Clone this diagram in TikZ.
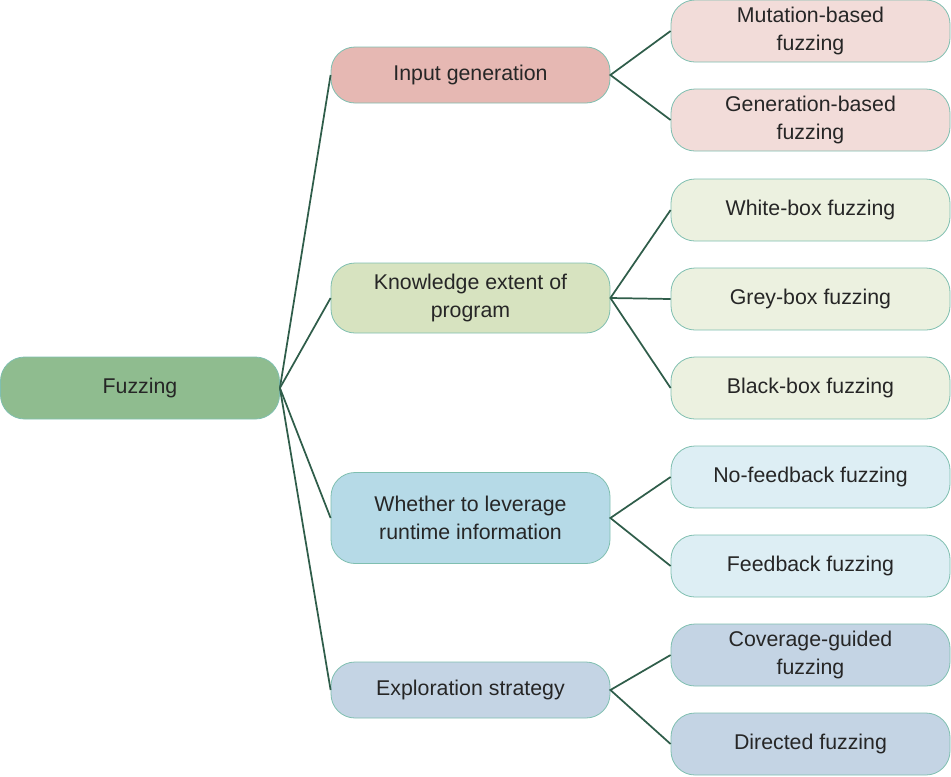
\documentclass[tikz,border=0pt]{standalone}
\usepackage{fontspec}
\setmainfont{Liberation Sans}
\begin{document}
\begin{tikzpicture}[x=0.75pt,y=-0.75pt,
 box/.style={draw=bd,line width=0.6pt,rounded corners=18pt,minimum width=279*0.75pt,align=center,font=\fontsize{16}{21}\selectfont,text=black!85},
 con/.style={draw=ln,line width=1.3pt}]
\definecolor{bd}{HTML}{7FBFB0}
\definecolor{ln}{HTML}{2F5D4A}
\definecolor{r}{HTML}{8FBC8F}
\definecolor{a1}{HTML}{E6B8B3}\definecolor{a2}{HTML}{F2DCD9}
\definecolor{b1}{HTML}{D7E3C0}\definecolor{b2}{HTML}{ECF1E0}
\definecolor{c1}{HTML}{B6DAE7}\definecolor{c2}{HTML}{DDEEF4}
\definecolor{d1}{HTML}{C4D4E4}\definecolor{d2}{HTML}{C4D4E4}
\useasboundingbox (0,0) rectangle (951,776);
\node[box,fill=r,minimum height=62*0.75pt] (root) at (140,388) {Fuzzing};
\node[box,fill=a1,minimum height=56*0.75pt] (A) at (470.5,75) {Input generation};
\node[box,fill=b1,minimum height=70*0.75pt] (B) at (470.5,298) {Knowledge extent of\\program};
\node[box,fill=c1,minimum height=91*0.75pt] (C) at (470.5,518) {Whether to leverage\\runtime information};
\node[box,fill=d1,minimum height=56*0.75pt] (D) at (470.5,690) {Exploration strategy};
\foreach \n/\y/\c/\t in {A1/31/a2/{Mutation-based\\fuzzing},A2/120/a2/{Generation-based\\fuzzing},B1/210/b2/{White-box fuzzing},B2/299/b2/{Grey-box fuzzing},B3/388/b2/{Black-box fuzzing},C1/477/c2/{No-feedback fuzzing},C2/566/c2/{Feedback fuzzing},D1/655/d2/{Coverage-guided\\fuzzing},D2/744/d2/{Directed fuzzing}}
 \node[box,fill=\c,minimum height=62*0.75pt] (\n) at (810.5,\y) {\t};
\foreach \p in {A,B,C,D} \draw[con] (root.east) -- (\p.west);
\draw[con] (A1.west) -- (A.east) -- (A2.west);
\draw[con] (B1.west) -- (B.east) -- (B3.west); \draw[con] (B.east) -- (B2.west);
\draw[con] (C1.west) -- (C.east) -- (C2.west);
\draw[con] (D1.west) -- (D.east) -- (D2.west);
\end{tikzpicture}
\end{document}
